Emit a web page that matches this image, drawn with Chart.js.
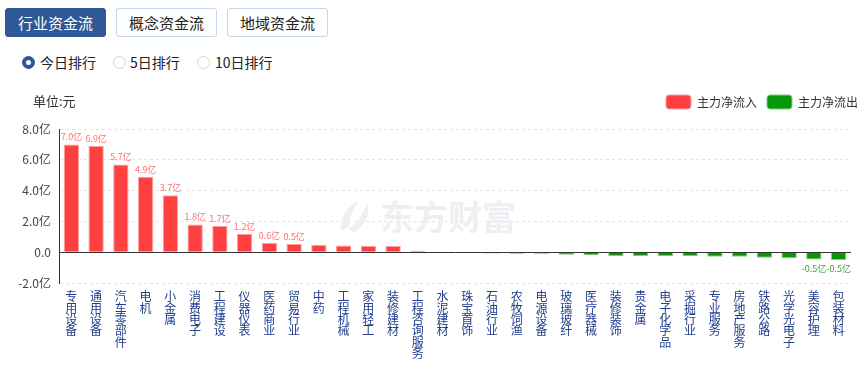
<!DOCTYPE html>
<html>
<head>
<meta charset="utf-8">
<script src="https://cdn.jsdelivr.net/npm/chart.js@4/dist/chart.umd.min.js"></script>
<style>
  body { margin: 0; background: #fff; font-family: "Microsoft YaHei", "Noto Sans CJK SC", sans-serif; }
  #page { position: relative; width: 868px; height: 368px; overflow: hidden; }
  .btn { position: absolute; top: 8px; width: 99px; height: 27px; line-height: 27px; text-align: center;
         font-size: 15px; color: #222; border: 1px solid #c3d6ea; border-radius: 3px; background: #fff; }
  .btn.on { background: #2e5896; border-color: #2e5896; color: #fff; }
  .radio { position: absolute; top: 56px; width: 11px; height: 11px; border: 1px solid #c6d8ea; border-radius: 50%; background: #fff; }
  .radio.on { background: #2e5896; border-color: #2e5896; }
  .radio.on::after { content: ""; position: absolute; left: 3px; top: 3px; width: 5px; height: 5px; border-radius: 50%; background: #fff; }
  .rtxt { position: absolute; top: 53px; font-size: 14px; color: #222; line-height: 18px; }
  #unit { position: absolute; left: 33px; top: 91px; font-size: 13px; color: #333; }
  #box { position: absolute; left: 0; top: 85px; width: 868px; height: 283px; }
</style>
</head>
<body>
<div id="page">
  <div class="btn on" style="left:5px">行业资金流</div>
  <div class="btn" style="left:116px">概念资金流</div>
  <div class="btn" style="left:227px">地域资金流</div>

  <span class="radio on" style="left:22px"></span><span class="rtxt" style="left:40px">今日排行</span>
  <span class="radio" style="left:113px"></span><span class="rtxt" style="left:130px">5日排行</span>
  <span class="radio" style="left:197px"></span><span class="rtxt" style="left:215px">10日排行</span>

  <div id="box"><canvas id="flowChart"></canvas></div>
  <div id="unit">单位:元</div>
</div>
<script>
// 行业资金流 - 今日排行 (亿元)
const industries = ['专用设备', '通用设备', '汽车零部件', '电机', '小金属', '消费电子', '工程建设', '仪器仪表',
  '医药商业', '贸易行业', '中药', '工程机械', '家用轻工', '装修建材', '工程咨询服务', '水泥建材',
  '珠宝首饰', '石油行业', '农牧饲渔', '电源设备', '玻璃玻纤', '医疗器械', '装修装饰', '贵金属',
  '电子化学品', '采掘行业', '专业服务', '房地产服务', '铁路公路', '光学光电子', '美容护理', '包装材料'];
const netFlow = [7.0, 6.9, 5.7, 4.9, 3.7, 1.8, 1.7, 1.2, 0.6, 0.54, 0.47, 0.43, 0.4, 0.4, 0.1, 0.03,
  -0.03, -0.08, -0.1, -0.1, -0.17, -0.19, -0.24, -0.24, -0.26, -0.26, -0.3, -0.3, -0.36, -0.4, -0.48, -0.5];
const yTicks = [-2, 0, 2, 4, 6, 8];

const inflow = netFlow.map(v => v > 0 ? v : null);
const outflow = netFlow.map(v => v <= 0 ? v : null);

const FONT = '"Microsoft YaHei", "Noto Sans CJK SC", sans-serif';

// only top 10 and last 2 get a value label
function showLabel(i) {
  return i < 10 || i >= netFlow.length - 2;
}

const watermark = {
  id: 'watermark',
  beforeDatasetsDraw(chart) {
    const { ctx, chartArea } = chart;
    const cx = (chartArea.left + chartArea.right) / 2 - 7;
    const cy = chartArea.top + (chartArea.bottom - chartArea.top) * 0.57;
    ctx.save();
    ctx.fillStyle = '#eeeff2';
    ctx.font = 'bold 34px ' + FONT;
    ctx.textAlign = 'center';
    ctx.textBaseline = 'middle';
    ctx.fillText('东方财富', cx, cy);
    // little leaf logo
    const lx = cx - 93, ly = cy;
    ctx.beginPath();
    ctx.moveTo(lx - 14, ly + 14);
    ctx.quadraticCurveTo(lx - 16, ly - 6, lx + 4, ly - 16);
    ctx.quadraticCurveTo(lx - 6, ly - 2, lx - 6, ly + 10);
    ctx.closePath();
    ctx.fill();
    ctx.beginPath();
    ctx.moveTo(lx - 2, ly + 16);
    ctx.quadraticCurveTo(lx + 18, ly + 4, lx + 12, ly - 14);
    ctx.quadraticCurveTo(lx + 6, ly + 4, lx - 6, ly + 12);
    ctx.closePath();
    ctx.fill();
    ctx.restore();
  }
};

const valueLabels = {
  id: 'valueLabels',
  afterDatasetsDraw(chart) {
    const { ctx } = chart;
    ctx.save();
    ctx.font = '9px ' + FONT;
    ctx.textAlign = 'center';
    chart.data.datasets.forEach((ds, di) => {
      const meta = chart.getDatasetMeta(di);
      meta.data.forEach((bar, i) => {
        const v = ds.data[i];
        if (v === null || !showLabel(i)) return;
        const txt = v.toFixed(1) + '亿';
        if (v > 0) {
          ctx.fillStyle = '#ff7070';
          ctx.textBaseline = 'bottom';
          ctx.fillText(txt, bar.x, bar.y - 3);
        } else {
          ctx.fillStyle = '#3aa53a';
          ctx.textBaseline = 'top';
          ctx.fillText(txt, bar.x, bar.y + 4);
        }
      });
    });
    ctx.restore();
  }
};

const ctx = document.getElementById('flowChart').getContext('2d');
const chart = new Chart(ctx, {
  type: 'bar',
  data: {
    labels: industries.map(s => s.split('')),
    datasets: [
      {
        label: '主力净流入',
        data: inflow,
        backgroundColor: '#ff4040',
        borderColor: '#ffa0a0',
        borderWidth: 1,
        grouped: false,
        barPercentage: 0.62,
        categoryPercentage: 1
      },
      {
        label: '主力净流出',
        data: outflow,
        backgroundColor: '#069806',
        borderColor: '#7ccf7c',
        borderWidth: 1,
        grouped: false,
        barPercentage: 0.62,
        categoryPercentage: 1
      }
    ]
  },
  options: {
    responsive: true,
    maintainAspectRatio: false,
    animation: false,
    layout: { padding: { left: 0, right: 0, top: 0, bottom: 0 } },
    plugins: {
      legend: {
        position: 'top',
        align: 'end',
        labels: {
          boxWidth: 25,
          boxHeight: 14,
          useBorderRadius: true,
          borderRadius: 3,
          padding: 10,
          color: '#333',
          font: { size: 12, family: FONT }
        }
      },
      // empty spacer between legend and plot
      subtitle: {
        display: true,
        text: ' ',
        weight: 500,
        padding: 0,
        font: { size: 10, lineHeight: 1 }
      },
      tooltip: { enabled: false }
    },
    scales: {
      x: {
        grid: { display: false, drawTicks: false },
        border: { display: false },
        ticks: {
          autoSkip: false,
          maxRotation: 0,
          minRotation: 0,
          padding: 8,
          color: '#23408e',
          font: { size: 12, lineHeight: 0.95, family: FONT }
        },
        afterFit(s) { s.height = 85; }
      },
      y: {
        min: -2,
        max: 8,
        afterBuildTicks(s) { s.ticks = yTicks.map(v => ({ value: v })); },
        grid: {
          drawTicks: false,
          color: c => (c.tick && c.tick.value === 0) ? '#333' : '#e3e3e3'
        },
        border: {
          display: true,
          color: '#333',
          dash: c => (c.tick && c.tick.value === 0) ? [] : [3, 3]
        },
        ticks: {
          padding: 8,
          color: '#444',
          font: { size: 12, family: FONT },
          callback: v => v === 0 ? '0.0' : v.toFixed(1) + '亿'
        },
        afterFit(s) { s.width = 59; }
      },
      // blank right margin
      yRight: {
        position: 'right',
        grid: { display: false, drawTicks: false },
        border: { display: false },
        ticks: { display: false },
        afterFit(s) { s.width = 17; }
      }
    }
  },
  plugins: [watermark, valueLabels]
});
</script>
</body>
</html>
